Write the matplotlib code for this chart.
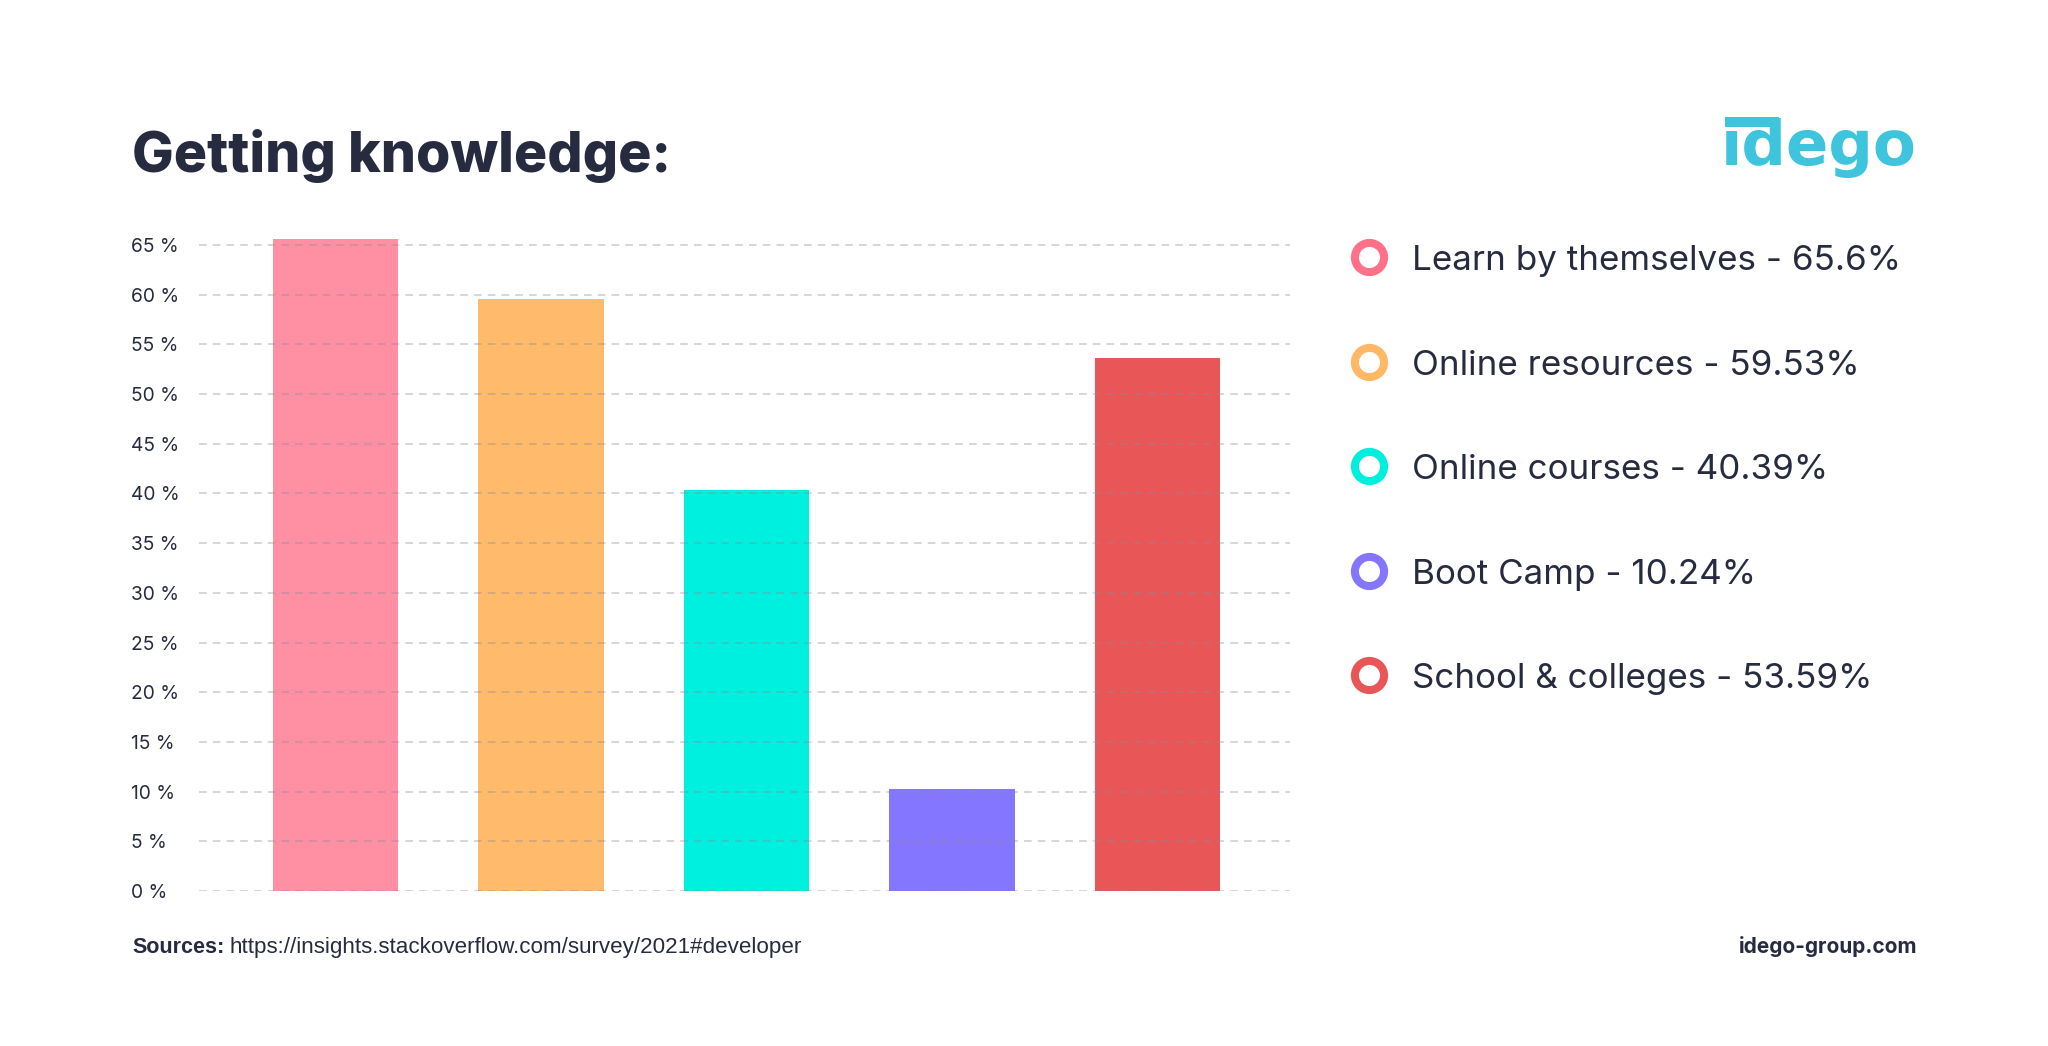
import matplotlib
matplotlib.use("Agg")
import matplotlib.pyplot as plt
from matplotlib.lines import Line2D
from matplotlib.patches import Rectangle

categories = ["Learn by themselves", "Online resources", "Online courses", "Boot Camp", "School & colleges"]
values = [65.6, 59.53, 40.39, 10.24, 53.59]
value_labels = ["65.6%", "59.53%", "40.39%", "10.24%", "53.59%"]
bar_colors = ["#FF8FA3", "#FFBA6B", "#00F0E0", "#8476FF", "#E95658"]
ring_colors = ["#FF7089", "#FFB866", "#00EEDD", "#8476FF", "#E95658"]
yticks = list(range(0, 70, 5))
ytick_labels = [f"{t} %" for t in yticks]

TEXT = "#262B40"
FONT = "Inter"

W, H = 2048, 1046
fig = plt.figure(figsize=(W / 100, H / 100), dpi=100)
fig.patch.set_facecolor("white")

def fx(px):
    return px / W

def fy(py):
    return 1 - py / H

ax = fig.add_axes([fx(199), fy(891), fx(1290) - fx(199), (656) / H])
x = list(range(len(values)))
ax.bar(x, values, width=0.61, color=bar_colors, zorder=1)
ax.set_xlim(-0.665, 4.645)
ax.set_ylim(0, 66)
ax.set_yticks(yticks)
ax.set_yticklabels(ytick_labels, fontsize=13.8, color=TEXT, family=FONT)
for lab in ax.get_yticklabels():
    lab.set_horizontalalignment("left")
ax.tick_params(axis="y", length=0, pad=49)
ax.set_xticks([])
for s in ax.spines.values():
    s.set_visible(False)
ax.set_axisbelow(False)
ax.yaxis.grid(True, color="#8A8A99", alpha=0.45, linewidth=1.1, linestyle=(0, (5, 4)), zorder=3)

# Title
fig.text(fx(132), fy(172), "Getting knowledge:", fontsize=39.9, fontweight="heavy",
         color=TEXT, family=FONT, va="baseline", ha="left")

# Legend
leg_y = [261, 366, 470, 575, 679]
circ_y = [257, 362, 466, 571, 675]
for yy, cy, c, cat, lab in zip(leg_y, circ_y, ring_colors, categories, value_labels):
    fig.add_artist(Line2D([fx(1369)], [fy(cy)], transform=fig.transFigure, marker="o",
                          markersize=21, markeredgewidth=5.8, markerfacecolor="white",
                          markeredgecolor=c, linestyle="none"))
    fig.text(fx(1412), fy(yy), f"{cat} - {lab}", fontsize=25.2, color=TEXT,
             family=FONT, va="center", ha="left")

# Footer
renderer = fig.canvas.get_renderer()
FOOT = "Liberation Sans"
t_src = fig.text(fx(132), fy(953), "Sources:", fontsize=15.5, fontweight="bold",
                 color=TEXT, family=FOOT, va="baseline", ha="left")
bb = t_src.get_window_extent(renderer=renderer)
fig.text(bb.x1 / W + fx(5), fy(953), "https://insights.stackoverflow.com/survey/2021#developer",
         fontsize=16.1, color=TEXT, family=FOOT, va="baseline", ha="left")
fig.text(fx(1917), fy(953), "idego-group.com", fontsize=15, fontweight="bold",
         color=TEXT, family=FONT, va="baseline", ha="right")

# Logo
LOGO = "#3EC4DC"
LFONT = "DejaVu Sans"
LSIZE = 45
BASE = 165
t_logo = fig.text(fx(1917), fy(BASE), "\u0131dego", fontsize=LSIZE, fontweight="bold",
                  color=LOGO, family=LFONT, va="baseline", ha="right")
lb = t_logo.get_window_extent(renderer=renderer)
t_id = fig.text(lb.x0 / W, fy(BASE), "\u0131d", fontsize=LSIZE, fontweight="bold",
                family=LFONT, va="baseline", ha="left")
idb = t_id.get_window_extent(renderer=renderer)
t_id.remove()
em = LSIZE * 100 / 72
bar_top = BASE - 0.76 * em
bar_h = 9
fig.add_artist(Rectangle((lb.x0 / W + fx(4), fy(bar_top + bar_h)), (idb.width - 12) / W, bar_h / H,
                         transform=fig.transFigure, color=LOGO, lw=0))

fig.savefig("out.png", dpi=100, facecolor="white")
